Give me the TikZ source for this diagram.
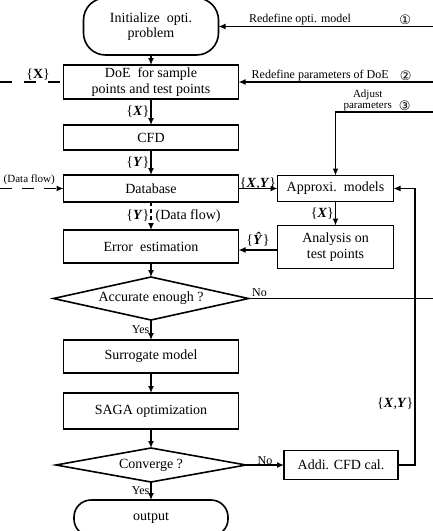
\documentclass[tikz,border=0pt]{standalone}
\usepackage{fontspec}
\setmainfont{Liberation Serif}
\newfontfamily\circfont{DejaVu Sans}
\usetikzlibrary{positioning,shapes.geometric,arrows.meta}

\begin{document}
\begin{tikzpicture}[
x=1pt, y=-1pt,
>={Latex[length=7pt,width=6pt]},
flow/.style={line width=1.3pt},
box/.style={rectangle, draw, line width=1.6pt, outer sep=0pt, minimum width=175pt, align=center, inner sep=1pt, font=\fontsize{14}{15.5}\selectfont},
sidebox/.style={box, minimum width=116pt},
termnode/.style={box, rounded corners=#1},
decision/.style={diamond, draw, line width=1.6pt, outer sep=0pt, inner sep=0pt, font=\fontsize{14}{15.5}\selectfont},
lbl/.style={font=\fontsize{12}{13}\selectfont, inner sep=1pt},
smalllbl/.style={font=\fontsize{11}{11}\selectfont, inner sep=1pt, align=center},
circ/.style={font=\circfont\fontsize{13}{13}\selectfont, inner sep=1pt},
var/.style={font=\fontsize{14}{15}\selectfont, inner sep=1pt},
]
\useasboundingbox (0,0) rectangle (433,531);

%Nodes
\node[termnode=22pt, minimum width=135pt, minimum height=57pt] (start) at (151,26.5) {Initialize~~opti.\\problem};
\node[box, minimum height=34pt]   (doe)    [below=10pt of start] {DoE~~for sample\\points and test points};
\node[box, minimum height=25pt]   (cfd)    [below=26pt of doe]   {CFD};
\node[box, minimum height=27pt]   (db)     [below=25pt of cfd]   {Database};
\node[box, minimum height=33pt]   (err)    [below=28pt of db]    {Error~~estimation};
\node[decision, aspect=4.5, minimum width=195pt, minimum height=43pt] (acc) [below=14pt of err] {Accurate enough ?};
\node[box, minimum height=33pt]   (sur)    [below=20pt of acc]   {Surrogate model};
\node[box, minimum height=36pt]   (saga)   [below=20pt of sur]   {SAGA optimization};
\node[decision, aspect=5.6, minimum width=190pt, minimum height=34pt] (conv) [below=19pt of saga] {Converge ?};
\node[termnode=17pt, minimum width=154pt, minimum height=36pt] (out) [below=18pt of conv] {output};

\node[sidebox, minimum height=26pt] (approx) [right=39pt of db]     {Approxi.~~models};
\node[sidebox, minimum height=43pt] (ana)    [below=24pt of approx] {Analysis on\\test points};
\node[sidebox, minimum width=114pt, minimum height=29pt] (addi) [right=38pt of conv] {Addi. CFD cal.};

%Coordinates at the edges
\coordinate (in1) at (433,26.5);
\coordinate (in2) at (433,82);
\coordinate (in3) at (433,112);
\coordinate (edge) at (433,0);
\coordinate (fb) at (415,0);
\coordinate (ldoe) at (0,82);
\coordinate (ldb) at (0,188.5);

%Lines
\draw[flow,->] (start) -- (doe);
\draw[flow,->] (doe) -- node[var,left] {\{\textbf{\textit{X}}\}} (cfd);
\draw[flow,->] (cfd) -- node[var,left] {\{\textbf{\textit{Y}}\}} (db);
\draw[flow,->,dash pattern=on 4pt off 3pt] (db) -- node[var,left] {\{\textbf{\textit{Y}}\}} node[var,right=3pt] {(Data flow)} (err);
\draw[flow,->] (err) -- (acc);
\draw[flow,->] (acc) -- node[lbl,left] {Yes} (sur);
\draw[flow,->] (sur) -- (saga);
\draw[flow,->] (saga) -- (conv);
\draw[flow,->] (conv) -- node[lbl,left] {Yes} (out);
\draw[flow,->] (conv) -- node[lbl,above=-1pt] {No} (addi);
\draw[flow] (acc.east) -- node[lbl,above,pos=0.06] {No} (acc.east -| edge);

\draw[flow,->] (db) -- node[var,above=-3pt] {\{\textbf{\textit{X}},\textbf{\textit{Y}}\}} (approx);
\draw[flow,->] (approx) -- node[var,left] {\{\textbf{\textit{X}}\}} (ana);
\draw[flow,->] (ana.west |- 0,250) -- node[var,above=2pt] {\{\textbf{\textit{Ŷ}}\}} (err.east |- 0,250);
\draw[flow,->] (addi.east) -- (addi.east -| fb) -- node[var,left,pos=0.22] {\{\textbf{\textit{X}},\textbf{\textit{Y}}\}} (approx.east -| fb) -- (approx.east);

\draw[flow,->] (in1) -- node[lbl,above,pos=0.62] {Redefine opti. model} node[circ,above,pos=0.13] {①} (start.east |- in1);
\draw[flow,->] (in2) -- node[lbl,above=-1pt,pos=0.58] {Redefine parameters of DoE} node[circ,above,pos=0.14] {②} (doe.east |- in2);
\draw[flow,->] (in3) -- node[smalllbl,above,pos=0.67] {Adjust\\parameters} node[circ,above,pos=0.29] {③} (in3 -| approx.north) -- (approx.north);

\draw[flow,dash pattern=on 12pt off 12pt] (ldoe) -- node[var,above,pos=0.6] {\{\textbf{X}\}} (doe.west |- ldoe);
\draw[flow,->,dash pattern=on 12pt off 10pt] (ldb) -- node[smalllbl,above=2pt,pos=0.46] {(Data flow)} (db.west |- ldb);
\end{tikzpicture}
\end{document}
